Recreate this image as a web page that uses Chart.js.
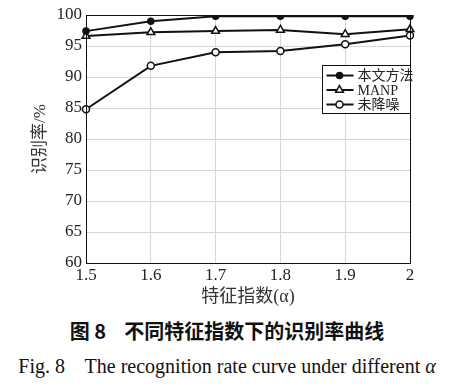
<!DOCTYPE html>
<html>
<head>
<meta charset="utf-8">
<script src="https://cdn.jsdelivr.net/npm/chart.js@4"></script>
<style>
  body { margin: 0; background: #fff; }
  #wrap { position: relative; width: 454px; height: 389px; }
  #cap1 { position: absolute; left: 0; width: 454px; top: 316px; text-align: center;
          font: bold 20px "Noto Sans CJK SC", sans-serif; color: #111; white-space: pre; }
  #cap2 { position: absolute; left: 0; width: 454px; top: 355px; text-align: center;
          font: 20px "Liberation Serif", serif; color: #111; white-space: pre; }
</style>
</head>
<body>
<div id="wrap">
  <canvas id="chart" width="454" height="310"></canvas>
  <div id="cap1">图 8    不同特征指数下的识别率曲线</div>
  <div id="cap2">Fig. 8    The recognition rate curve under different <i>α</i></div>
</div>
<script>
const alphas = ["1.5", "1.6", "1.7", "1.8", "1.9", "2"];
const ours = [97.4, 99.0, 99.8, 99.8, 99.8, 99.8];
const manp = [96.6, 97.2, 97.4, 97.6, 96.9, 97.7];
const noDenoise = [84.8, 91.8, 94.0, 94.2, 95.3, 96.7];
const yTicks = [60, 65, 70, 75, 80, 85, 90, 95, 100];

const serif = "'Liberation Serif', 'Times New Roman', serif";
const cjk = "'Liberation Serif', 'Noto Sans CJK SC', serif";

// black box around the plot + legend inside the top right corner
const frame = {
  id: "frame",
  afterDraw(chart) {
    const { ctx, chartArea: a } = chart;
    ctx.save();
    ctx.strokeStyle = "#111";
    ctx.lineWidth = 1;
    ctx.strokeRect(a.left + 0.5, a.top + 0.5, a.right - a.left, a.bottom - a.top);

    const w = 88, h = 48;
    const x = a.right - w + 0.5, y = a.top + 50.5;
    ctx.fillStyle = "#fff";
    ctx.fillRect(x, y, w, h);
    ctx.strokeRect(x, y, w, h);
    chart.data.datasets.forEach((ds, i) => {
      const cy = y + 10 + i * 14.5;
      ctx.strokeStyle = "#111";
      ctx.lineWidth = 2;
      ctx.beginPath();
      ctx.moveTo(x + 4, cy);
      ctx.lineTo(x + 31, cy);
      ctx.stroke();
      ctx.lineWidth = 1.5;
      ctx.fillStyle = ds.pointBackgroundColor;
      Chart.helpers.drawPoint(ctx, { pointStyle: ds.pointStyle, radius: ds.pointRadius, borderWidth: 1.5 }, x + 17, cy);
      ctx.fillStyle = "#222";
      ctx.font = "14px " + cjk;
      ctx.textBaseline = "middle";
      ctx.fillText(ds.label, x + 35, cy + 1);
    });
    ctx.restore();
  }
};

new Chart(document.getElementById("chart"), {
  type: "line",
  data: {
    labels: alphas,
    datasets: [
      { label: "本文方法", data: ours, pointStyle: "circle", pointRadius: 3,
        pointBackgroundColor: "#111" },
      { label: "MANP", data: manp, pointStyle: "triangle", pointRadius: 4.5,
        pointBackgroundColor: "#fff" },
      { label: "未降噪", data: noDenoise, pointStyle: "circle", pointRadius: 3.5,
        pointBackgroundColor: "#fff" }
    ].map(d => Object.assign(d, {
      borderColor: "#111", borderWidth: 2, pointBorderColor: "#111",
      pointBorderWidth: 1.5, tension: 0
    }))
  },
  options: {
    responsive: false,
    animation: false,
    layout: { padding: { left: 0, top: 15, right: 44, bottom: 0 } },
    plugins: { legend: { display: false }, tooltip: { enabled: false } },
    scales: {
      x: {
        offset: false,
        grid: { color: "#d6d6d6", tickLength: 0 },
        border: { color: "#111" },
        ticks: { color: "#222", font: { family: serif, size: 17 }, padding: 2, maxRotation: 0 },
        title: { display: true, text: "特征指数(α)", color: "#333",
                 font: { family: cjk, size: 18 }, padding: { top: 0, bottom: 2 } },
        afterFit(s) { s.height = 47; }
      },
      y: {
        min: 60, max: 100,
        afterBuildTicks(s) { s.ticks = yTicks.map(v => ({ value: v })); },
        grid: { color: "#d6d6d6", tickLength: 0 },
        border: { color: "#111" },
        ticks: { color: "#222", font: { family: serif, size: 17 }, padding: 4 },
        title: { display: true, text: "识别率/%", color: "#333",
                 font: { family: cjk, size: 17 }, padding: { top: 30, bottom: 0 } },
        afterFit(s) { s.width = 86; }
      }
    }
  },
  plugins: [frame]
});
</script>
</body>
</html>
